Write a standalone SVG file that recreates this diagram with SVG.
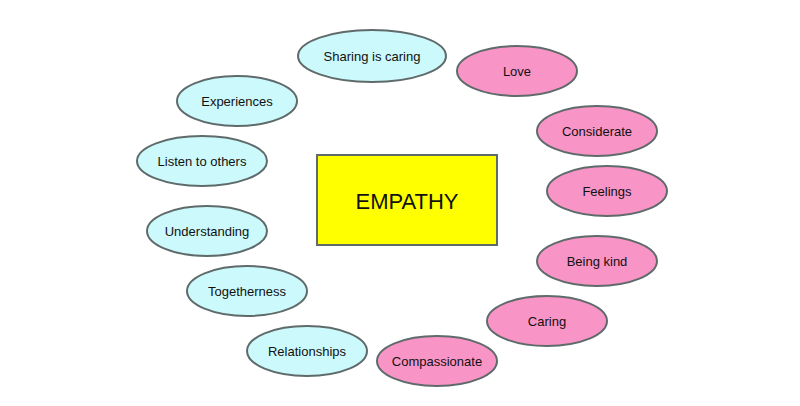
<svg xmlns="http://www.w3.org/2000/svg" width="800" height="406" viewBox="0 0 800 406">
<style>
.c{fill:#ccf9fb;stroke:#5f6b6b;stroke-width:2}
.p{fill:#f994c6;stroke:#5f6b6b;stroke-width:2}
text{font-family:"Comic Sans MS","Liberation Sans",sans-serif;font-size:13px;fill:#111;text-anchor:middle;dominant-baseline:central}
</style>
<rect width="800" height="406" fill="#fff"/>
<g id="center"><rect x="317" y="155" width="180" height="90" fill="#ffff00" stroke="#5f6b6b" stroke-width="2"/><text x="407" y="201" style="font-size:22px">EMPATHY</text></g>
<g id="n1"><ellipse class="c" cx="372" cy="56" rx="74" ry="26"/><text x="372" y="56">Sharing is caring</text></g>
<g id="n2"><ellipse class="p" cx="517" cy="71" rx="60" ry="25"/><text x="517" y="71">Love</text></g>
<g id="n3"><ellipse class="c" cx="237" cy="101" rx="60" ry="25"/><text x="237" y="101">Experiences</text></g>
<g id="n4"><ellipse class="p" cx="597" cy="131" rx="60" ry="25"/><text x="597" y="131">Considerate</text></g>
<g id="n5"><ellipse class="c" cx="202" cy="161" rx="65" ry="25"/><text x="202" y="161">Listen to others</text></g>
<g id="n6"><ellipse class="p" cx="607" cy="191" rx="60" ry="25"/><text x="607" y="191">Feelings</text></g>
<g id="n7"><ellipse class="c" cx="207" cy="231" rx="60" ry="25"/><text x="207" y="231">Understanding</text></g>
<g id="n8"><ellipse class="p" cx="597" cy="261" rx="60" ry="25"/><text x="597" y="261">Being kind</text></g>
<g id="n9"><ellipse class="c" cx="247" cy="291" rx="60" ry="25"/><text x="247" y="291">Togetherness</text></g>
<g id="n10"><ellipse class="p" cx="547" cy="321" rx="60" ry="25"/><text x="547" y="321">Caring</text></g>
<g id="n11"><ellipse class="c" cx="307" cy="351" rx="60" ry="25"/><text x="307" y="351">Relationships</text></g>
<g id="n12"><ellipse class="p" cx="437" cy="361" rx="60" ry="25"/><text x="437" y="361">Compassionate</text></g>
<g id="connectors"></g>
</svg>
